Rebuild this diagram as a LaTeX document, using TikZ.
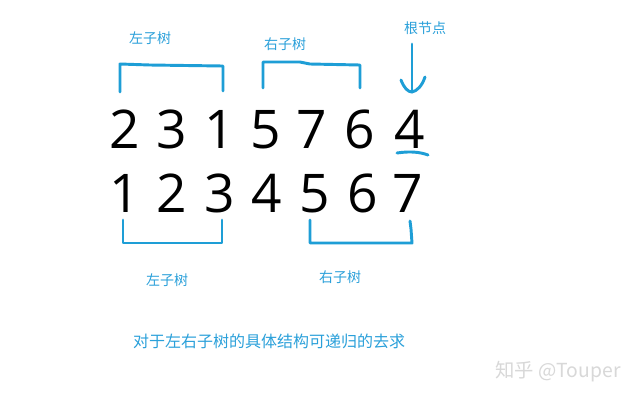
\documentclass[tikz,border=0pt]{standalone}
\usepackage{fontspec}
\setmainfont{Open Sans}
\newfontfamily\cjk{Noto Sans CJK SC}
\definecolor{penblue}{HTML}{1E9ED6}
\definecolor{labblue}{HTML}{2AA0DA}
\definecolor{wmgray}{HTML}{D8D8D8}
\begin{document}
\begin{tikzpicture}[x=0.75pt,y=-0.75pt,
  digit/.style={inner sep=0pt,anchor=base,font=\fontsize{40}{48}\selectfont,text=black},
  pen/.style={draw=penblue,line width=2.2pt,line cap=round,line join=round},
  lab/.style={inner sep=0pt,font=\cjk\fontsize{10.5}{12}\selectfont,text=labblue},
  captext/.style={inner sep=0pt,font=\cjk\fontsize{12}{14}\selectfont,text=labblue},
  wm/.style={inner sep=0pt,font=\cjk\fontsize{14.5}{17}\selectfont,text=wmgray}]
\useasboundingbox (0,0) rectangle (642,401);
\fill[white] (0,0) rectangle (642,401);
% top row (postorder)
\node[digit] (t1) at (125,148) {2};
\node[digit] (t2) at (172,148) {3};
\node[digit] (t3) at (220,148) {1};
\node[digit] (t4) at (266,148) {5};
\node[digit] (t5) at (312,148) {7};
\node[digit] (t6) at (360,148) {6};
\node[digit] (t7) at (410,148) {4};
% bottom row (inorder)
\node[digit] (b1) at (125,212) {1};
\node[digit] (b2) at (172,212) {2};
\node[digit] (b3) at (220,212) {3};
\node[digit] (b4) at (267,212) {4};
\node[digit] (b5) at (315,212) {5};
\node[digit] (b6) at (363,212) {6};
\node[digit] (b7) at (408,212) {7};
% labels
\node[lab] (ltop) at (150,38) {左子树};
\node[lab] (rtop) at (285,44) {右子树};
\node[lab] (root) at (425,28) {根节点};
\node[lab] (lbot) at (167,280) {左子树};
\node[lab] (rbot) at (340,277) {右子树};
\node[captext] (caption) at (269,341) {对于左右子树的具体结构可递归的去求};
\node[wm] (mark) at (558,372) {知乎 @Touper};
% top brackets
\draw[pen] (120,92) -- (120,64) -- (150,65) -- (223,66) -- (223,91);
\draw[pen] (263,88) -- (263,62) -- (300,62) -- (310,64) -- (360,65) -- (360,88);
% root arrow
\coordinate (atop) at (412,44);
\coordinate (atip) at (412,92);
\draw[pen] (atop) -- (atip);
\draw[pen] (401,80) .. controls (404,88) and (408,92) .. (atip) .. controls (417,91) and (422,86) .. (425,77);
% underline of root
\draw[pen] (397,153) .. controls (410,151) and (420,152) .. (428,155);
% bottom brackets
\draw[pen] (123,220) -- (123,243) -- (222,243) -- (222,220);
\draw[pen] (310,220) -- (310,243) -- (412,243) -- (411,229) -- (410,221);
\end{tikzpicture}
\end{document}
